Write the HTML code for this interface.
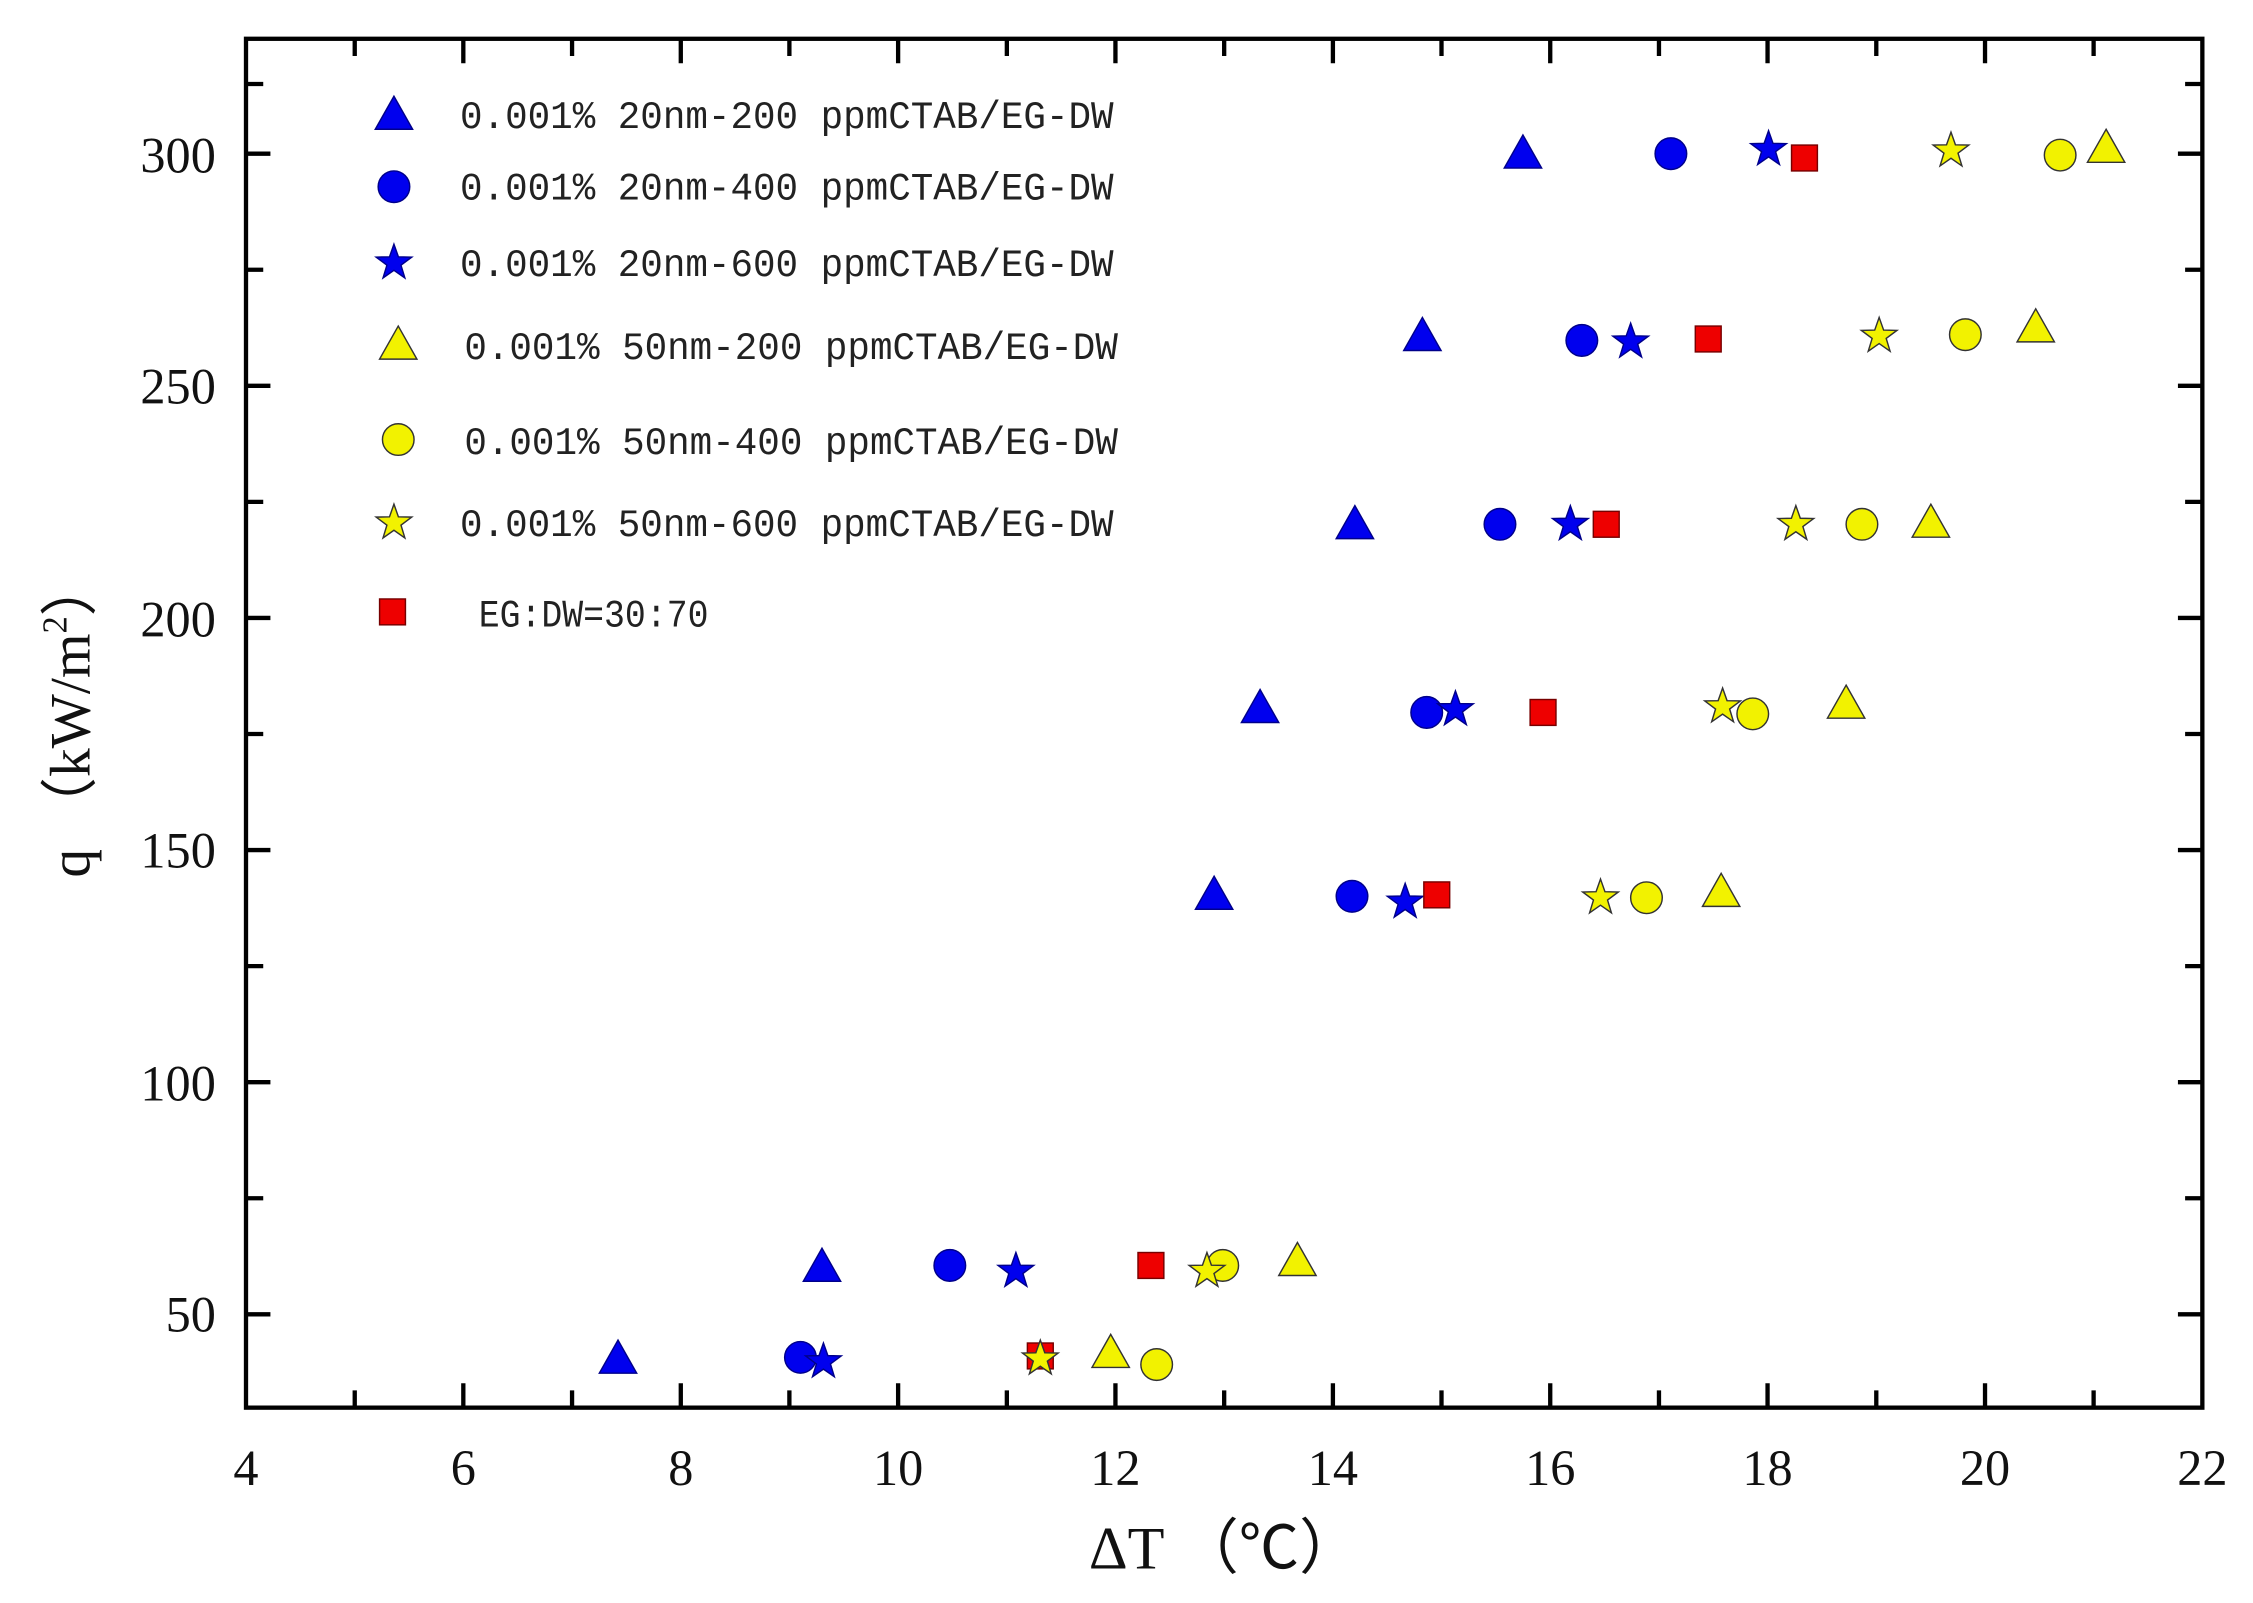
<!DOCTYPE html>
<html><head><meta charset="utf-8"><style>html,body{margin:0;padding:0;background:#fff}svg{display:block}</style></head>
<body>
<svg width="2253" height="1603" viewBox="0 0 1568 1116" xmlns="http://www.w3.org/2000/svg">
<defs>
<polygon id="tri" points="0,-13 13,10 -13,10"/>
<polygon id="star" points="0,-13 3.1,-4.2 12.4,-4 4.9,1.6 7.6,10.5 0,5.2 -7.6,10.5 -4.9,1.6 -12.4,-4 -3.1,-4.2"/>
</defs>
<rect width="1568" height="1116" fill="#fff"/>
<g stroke="#000" stroke-width="3" fill="none">
<rect x="171" y="27" width="1362" height="953"/>
<path d="M246.7,980v-12M322.3,980v-17M398,980v-12M473.7,980v-17M549.3,980v-12M625,980v-17M700.7,980v-12M776.3,980v-17M852,980v-12M927.7,980v-17M1003.3,980v-12M1079,980v-17M1154.7,980v-12M1230.3,980v-17M1306,980v-12M1381.7,980v-17M1457.3,980v-12"/>
<path d="M246.7,27v12M322.3,27v17M398,27v12M473.7,27v17M549.3,27v12M625,27v17M700.7,27v12M776.3,27v17M852,27v12M927.7,27v17M1003.3,27v12M1079,27v17M1154.7,27v12M1230.3,27v17M1306,27v12M1381.7,27v17M1457.3,27v12"/>
<path d="M171,915h17M171,834.2h12M171,753.4h17M171,672.6h12M171,591.8h17M171,511h12M171,430.2h17M171,349.4h12M171,268.6h17M171,187.8h12M171,107h17M171,58.5h12"/>
<path d="M1533,915h-17M1533,834.2h-12M1533,753.4h-17M1533,672.6h-12M1533,591.8h-17M1533,511h-12M1533,430.2h-17M1533,349.4h-12M1533,268.6h-17M1533,187.8h-12M1533,107h-17M1533,58.5h-12"/>
</g>
<g font-family="Liberation Serif, serif" font-size="35" fill="#111">
<g text-anchor="end">
<text x="150" y="927">50</text><text x="150" y="766">100</text><text x="150" y="604">150</text>
<text x="150" y="443">200</text><text x="150" y="281">250</text><text x="150" y="120">300</text>
</g>
<g text-anchor="middle">
<text x="171" y="1034">4</text><text x="322.3" y="1034">6</text><text x="473.7" y="1034">8</text>
<text x="625" y="1034">10</text><text x="776.3" y="1034">12</text><text x="927.7" y="1034">14</text>
<text x="1079" y="1034">16</text><text x="1230.3" y="1034">18</text><text x="1381.7" y="1034">20</text><text x="1533" y="1034">22</text>
<text x="852" y="1092" font-size="42">ΔT （℃）</text>
<text transform="translate(62,500) rotate(-90)" font-size="40">q （kW/m<tspan font-size="24" dy="-16">2</tspan><tspan dy="16">）</tspan></text>
</g>
</g>
<g font-family="Liberation Mono, monospace" font-size="27" fill="#222">
<text x="320" y="89" textLength="455" lengthAdjust="spacingAndGlyphs">0.001% 20nm-200 ppmCTAB/EG-DW</text>
<text x="320" y="139" textLength="455" lengthAdjust="spacingAndGlyphs">0.001% 20nm-400 ppmCTAB/EG-DW</text>
<text x="320" y="192" textLength="455" lengthAdjust="spacingAndGlyphs">0.001% 20nm-600 ppmCTAB/EG-DW</text>
<text x="323" y="250" textLength="455" lengthAdjust="spacingAndGlyphs">0.001% 50nm-200 ppmCTAB/EG-DW</text>
<text x="323" y="316" textLength="455" lengthAdjust="spacingAndGlyphs">0.001% 50nm-400 ppmCTAB/EG-DW</text>
<text x="320" y="373" textLength="455" lengthAdjust="spacingAndGlyphs">0.001% 50nm-600 ppmCTAB/EG-DW</text>
<text x="333" y="436" textLength="160" lengthAdjust="spacingAndGlyphs">EG:DW=30:70</text>
</g>
<g fill="#0000ee" stroke="#00008a" stroke-width="1">
<use href="#tri" x="274" y="80"/>
<use href="#tri" x="1060" y="107"/><use href="#tri" x="990" y="234"/><use href="#tri" x="943" y="365"/><use href="#tri" x="877" y="493"/><use href="#tri" x="845" y="623"/><use href="#tri" x="572" y="882"/><use href="#tri" x="430" y="946"/>
</g>
<g fill="#0000ee" stroke="#00008a" stroke-width="1">
<circle cx="274" cy="130" r="11"/>
<circle cx="1163" cy="107" r="11"/><circle cx="1101" cy="237" r="11"/><circle cx="1044" cy="365" r="11"/><circle cx="993" cy="496" r="11"/><circle cx="941" cy="624" r="11"/><circle cx="661" cy="881" r="11"/><circle cx="557" cy="945" r="11"/>
</g>
<g fill="#0000ee" stroke="#00008a" stroke-width="1">
<use href="#star" x="274" y="183"/>
<use href="#star" x="1231" y="104"/><use href="#star" x="1135" y="238"/><use href="#star" x="1093" y="365"/><use href="#star" x="1013" y="494"/><use href="#star" x="978" y="628"/><use href="#star" x="707" y="885"/><use href="#star" x="573" y="948"/>
</g>
<g fill="#f2f200" stroke="#333" stroke-width="1">
<use href="#tri" x="277" y="240"/>
<use href="#tri" x="1466" y="103"/><use href="#tri" x="1417" y="228"/><use href="#tri" x="1344" y="364"/><use href="#tri" x="1285" y="490"/><use href="#tri" x="1198" y="621"/><use href="#tri" x="903" y="878"/><use href="#tri" x="773" y="942"/>
</g>
<g fill="#f2f200" stroke="#333" stroke-width="1">
<circle cx="277" cy="306" r="11"/>
<circle cx="1434" cy="108" r="11"/><circle cx="1368" cy="233" r="11"/><circle cx="1296" cy="365" r="11"/><circle cx="1220" cy="497" r="11"/><circle cx="1146" cy="625" r="11"/><circle cx="851" cy="881" r="11"/><circle cx="805" cy="950" r="11"/>
</g>
<g fill="#ee0000" stroke="#700" stroke-width="1">
<rect x="264" y="417" width="18" height="18"/>
<rect x="1247" y="101" width="18" height="18"/><rect x="1180" y="227" width="18" height="18"/><rect x="1109" y="356" width="18" height="18"/><rect x="1065" y="487" width="18" height="18"/><rect x="991" y="614" width="18" height="18"/><rect x="792" y="872" width="18" height="18"/><rect x="715" y="935" width="18" height="18"/>
</g>
<g fill="#f2f200" stroke="#333" stroke-width="1">
<use href="#star" x="274" y="364"/>
<use href="#star" x="1358" y="105"/><use href="#star" x="1308" y="234"/><use href="#star" x="1250" y="365"/><use href="#star" x="1199" y="492"/><use href="#star" x="1114" y="625"/><use href="#star" x="840" y="885"/><use href="#star" x="724" y="946"/>
</g>
</svg>
</body></html>
